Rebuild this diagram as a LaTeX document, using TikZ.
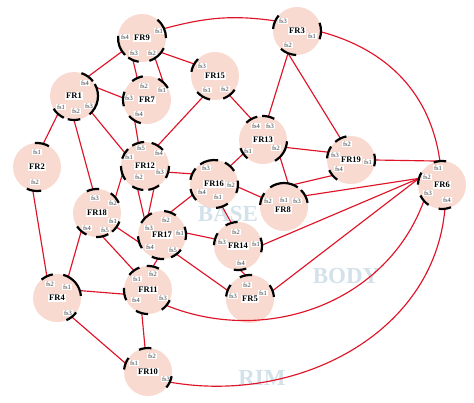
\documentclass[tikz,border=0pt]{standalone}
\usepackage{fontspec}
\setmainfont{Liberation Serif}
\definecolor{linered}{RGB}{224,20,40}
\definecolor{pinkfill}{RGB}{249,218,208}
\definecolor{zonecol}{RGB}{211,226,234}
\definecolor{fsgray}{RGB}{60,60,60}
\newcommand\frlab[1]{{\setlength\fboxsep{0.8pt}\colorbox{white}{\bfseries #1}}}
\begin{document}
\begin{tikzpicture}[x=1pt,y=1pt,
  frc/.style={circle,fill=pinkfill,minimum size=48pt,inner sep=0pt,outer sep=0pt,font=\fontsize{8.5}{9}\selectfont},
  fslab/.style={fill=white,inner sep=0.6pt,text=fsgray,font=\fontsize{6.5}{6.5}\selectfont},
  conn/.style={draw=linered,line width=1.15pt},
  portarc/.style={draw=black,line width=2.2pt},
  zone/.style={text=zonecol,font=\fontsize{23}{23}\selectfont\bfseries}]
\fill[white] (0,0) rectangle (474,-402);
\useasboundingbox (0,0) rectangle (474,-402);
% zone texts
\node[zone] (zbase) at (228,-214) {BASE};
\node[zone] (zbody) at (346,-276) {BODY};
\node[zone] (zrim) at (262,-378) {RIM};
% nodes
\node[frc] (fr9) at (142,-38) {\frlab{FR9}};
\node[frc] (fr3) at (297,-31) {\frlab{FR3}};
\node[frc] (fr15) at (215,-76) {\frlab{FR15}};
\node[frc] (fr1) at (74,-96) {\frlab{FR1}};
\node[frc] (fr7) at (147,-100) {\frlab{FR7}};
\node[frc] (fr2) at (37,-167) {\frlab{FR2}};
\node[frc] (fr12) at (145,-166) {\frlab{FR12}};
\node[frc] (fr13) at (263,-140) {\frlab{FR13}};
\node[frc] (fr19) at (351,-160) {\frlab{FR19}};
\node[frc] (fr6) at (442,-185) {\frlab{FR6}};
\node[frc] (fr16) at (214,-184) {\frlab{FR16}};
\node[frc] (fr8) at (284,-207) {};
\node (fr8l) at (283,-210) {\fontsize{8.5}{9}\selectfont\frlab{FR8}};
\node[frc] (fr18) at (97,-213) {\frlab{FR18}};
\node[frc] (fr17) at (162,-235) {\frlab{FR17}};
\node[frc] (fr14) at (238,-246) {\frlab{FR14}};
\node[frc] (fr5) at (250,-299) {\frlab{FR5}};
\node[frc] (fr4) at (57,-298) {\frlab{FR4}};
\node[frc] (fr11) at (148,-290) {\frlab{FR11}};
\node[frc] (fr10) at (148,-372) {\frlab{FR10}};
% fs labels
\foreach \nm/\x/\y/\t in {
 a91/159/31/fs1, a94/125/37/fs4, a93/134/53/fs3, a92/152/53/fs2,
 a33/283/21/fs3, a31/312/36/fs1, a32/288/45/fs2,
 a153/202/66/fs3, a151/207/90/fs1, a152/225/89/fs2,
 a14/85/83/fs4, a13/89/106/fs3, a11/61/107/fs1, a12/76/111/fs2,
 a72/144/86/fs2, a71/162/90/fs1, a73/129/98/fs3, a74/139/114/fs4,
 a21/37/152/fs1, a22/35/182/fs2,
 a125/141/148/fs5, a124/159/153/fs4, a121/129/157/fs1, a123/160/172/fs3, a122/139/177/fs2,
 a163/206/168/fs3, a162/231/185/fs2, a164/202/192/fs4, a161/218/197/fs1,
 a134/256/126/fs4, a133/270/126/fs3, a131/248/151/fs1, a132/276/148/fs2,
 a192/347/144/fs2, a193/335/155/fs3, a194/339/169/fs4, a191/368/162/fs1,
 a61/438/168/fs1, a62/427/177/fs2, a63/428/193/fs3, a64/447/200/fs4,
 a81/284/200/fs1, a82/268/201/fs2, a83/297/201/fs3,
 a142/236/232/fs2, a143/222/242/fs3, a141/256/244/fs1, a144/241/263/fs4,
 a52/247/285/fs2, a53/233/296/fs3, a51/263/293/fs1,
 a172/166/220/fs2, a173/149/228/fs3, a171/180/233/fs1, a174/150/247/fs4, a175/173/250/fs5,
 a183/95/198/fs3, a182/113/203/fs2, a181/113/221/fs1, a185/105/230/fs5, a184/87/228/fs4,
 a42/50/284/fs2, a41/67/287/fs1, a43/68/313/fs3,
 a111/137/279/fs1, a112/153/274/fs2, a113/163/298/fs3, a114/136/300/fs4,
 a102/152/356/fs2, a101/134/363/fs1, a103/166/379/fs3}
 \node[fslab] (\nm) at (\x,-\y) {\t};
% connectors
\draw[conn] (fr9.23) to[out=15,in=172] (fr3.155);
\draw[conn] (fr9.323) -- (fr15.150);
\draw[conn] (fr9.248) -- (fr7.114);
\draw[conn] (fr9.303) -- (fr7.47);
\draw[conn] (fr9.214) -- (fr1.54);
\draw[conn] (fr1.21) -- (fr7.175);
\draw[conn] (fr1.228) -- (fr2.75);
\draw[conn] (fr1.270) -- (fr18.100);
\draw[conn] (fr1.317) -- (fr12.147);
\draw[conn] (fr7.239) -- (fr12.106);
\draw[conn] (fr15.240) -- (fr12.58);
\draw[conn] (fr15.307) -- (fr13.119);
\draw[conn] (fr3.248) -- (fr13.77);
\draw[conn] (fr3.248) -- (fr19.116);
\draw[conn] (fr3.358) to[out=-15,in=98] (fr6.95);
\draw[conn] (fr13.342) -- (fr19.161);
\draw[conn] (fr13.215) -- (fr16.48);
\draw[conn] (fr13.315) -- (fr8.80);
\draw[conn] (fr19.220) -- (fr8.68);
\draw[conn] (fr19.0) -- (fr6.95);
\draw[conn] (fr6.164) -- (fr8.28);
\draw[conn] (fr6.164) -- (fr14.2);
\draw[conn] (fr6.164) -- (fr5.20);
\draw[conn] (fr6.221) to[out=250,in=-22] (fr11.320);
\draw[conn] (fr6.277) to[out=265,in=-10] (fr10.335);
\draw[conn] (fr16.353) -- (fr8.157);
\draw[conn] (fr16.290) -- (fr14.106);
\draw[conn] (fr16.207) -- (fr17.70);
\draw[conn] (fr12.345) -- (fr16.155);
\draw[conn] (fr12.252) -- (fr17.137);
\draw[conn] (fr12.292) -- (fr17.125);
\draw[conn] (fr18.40) -- (fr12.200);
\draw[conn] (fr18.324) -- (fr17.198);
\draw[conn] (fr18.283) -- (fr11.126);
\draw[conn] (fr18.229) -- (fr4.62);
\draw[conn] (fr2.260) -- (fr4.115);
\draw[conn] (fr4.18) -- (fr11.190);
\draw[conn] (fr4.308) -- (fr10.159);
\draw[conn] (fr11.255) -- (fr10.97);
\draw[conn] (fr17.260) -- (fr11.78);
\draw[conn] (fr17.5) -- (fr14.163);
\draw[conn] (fr17.307) -- (fr5.159);
\draw[conn] (fr14.275) -- (fr5.100);
% port arcs
\foreach \n/\a/\b in {
 fr9/0/50, fr9/175/225, fr9/235/262, fr9/288/335,
 fr3/140/175, fr3/-20/20, fr3/228/268,
 fr15/135/170, fr15/222/258, fr15/290/325,
 fr1/38/72, fr1/-50/30, fr1/212/245, fr1/255/285,
 fr7/100/128, fr7/30/62, fr7/160/195, fr7/222/255,
 fr2/60/95, fr2/245/280,
 fr12/92/122, fr12/42/74, fr12/135/162, fr12/180/215, fr12/330/360, fr12/238/266, fr12/278/306,
 fr16/140/170, fr16/33/63, fr16/80/125, fr16/338/368, fr16/192/222, fr16/275/305,
 fr13/104/134, fr13/62/92, fr13/200/230, fr13/300/357,
 fr19/101/131, fr19/146/176, fr19/205/235, fr19/-15/15,
 fr6/80/110, fr6/149/179, fr6/206/236, fr6/262/292,
 fr8/55/125, fr8/10/45, fr8/145/175,
 fr14/91/121, fr14/148/178, fr14/-15/20, fr14/260/290,
 fr5/85/115, fr5/144/174, fr5/5/35,
 fr17/55/85, fr17/115/150, fr17/-12/20, fr17/183/213, fr17/292/322, fr17/245/275,
 fr18/85/115, fr18/25/55, fr18/309/339, fr18/268/298, fr18/214/244,
 fr4/100/130, fr4/5/75, fr4/293/323,
 fr11/111/141, fr11/175/205, fr11/63/93, fr11/305/335, fr11/240/270,
 fr10/82/112, fr10/144/174, fr10/320/350}
 \draw[portarc] (\n.center) ++(\a:24pt) arc[start angle=\a,end angle=\b,radius=24pt];
\end{tikzpicture}
\end{document}
